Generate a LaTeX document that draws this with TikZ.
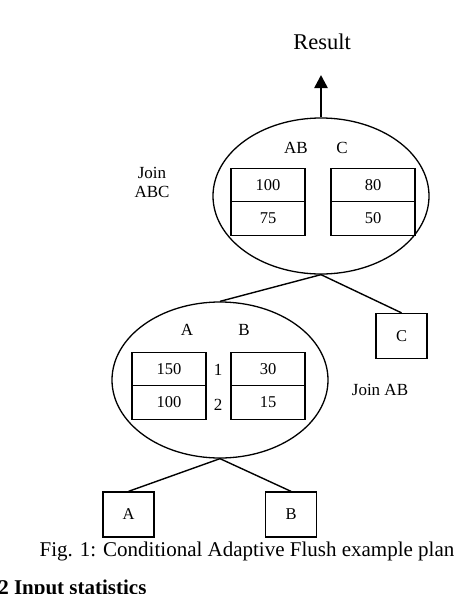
\documentclass[tikz,border=0pt]{standalone}
\usepackage{fontspec}
\setmainfont{Liberation Serif}
\usetikzlibrary{shapes.geometric,arrows.meta}

\begin{document}
\begin{tikzpicture}[x=1pt,y=-1pt,
    joinnode/.style={draw, ellipse, line width=1.3pt, minimum width=216pt, minimum height=156pt, inner sep=0pt},
    cell/.style={draw, line width=1.3pt, minimum height=33.5pt, inner sep=0pt, font=\fontsize{16.5}{19}\selectfont},
    leaf/.style={draw, line width=1.3pt, minimum width=51pt, minimum height=45pt, inner sep=0pt, font=\fontsize{16.5}{19}\selectfont},
    lbl/.style={font=\fontsize{17}{19}\selectfont},
    link/.style={line width=1.4pt}]
        \clip (0,0) rectangle (474,594);

        % join nodes
        \node[joinnode] (joinabc) at (321,196) {};
        \node[joinnode] (joinab) at (220,380) {};

        % statistics of join ABC
        \node[cell, minimum width=74pt] (ab1) at (268,185) {100};
        \node[cell, minimum width=74pt] (ab2) at (268,218.5) {75};
        \node[cell, minimum width=84pt] (c1) at (373,185) {80};
        \node[cell, minimum width=84pt] (c2) at (373,218.5) {50};
        \node[lbl] (abtitle) at (296,148) {AB};
        \node[lbl] (ctitle) at (342,148) {C};
        \node[lbl, align=center] (joinabclbl) at (152,182) {Join\\ABC};

        % statistics of join AB
        \node[cell, minimum width=74pt] (a1) at (169,369) {150};
        \node[cell, minimum width=74pt] (a2) at (169,402.5) {100};
        \node[cell, minimum width=74pt] (b1) at (268,369) {30};
        \node[cell, minimum width=74pt] (b2) at (268,402.5) {15};
        \node[lbl] (atitle) at (187,330) {A};
        \node[lbl] (btitle) at (244,330) {B};
        \node[lbl] (row1) at (218,370) {1};
        \node[lbl] (row2) at (218,405) {2};
        \node[lbl] (joinablbl) at (380,390) {Join AB};

        % base relations
        \node[leaf] (cbox) at (401.5,336) {C};
        \node[leaf] (abox) at (128.5,514.5) {A};
        \node[leaf] (bbox) at (291,514.5) {B};

        \draw[link] (joinabc.south) -- (joinab.north);
        \draw[link] (joinabc.south) -- (cbox.north);
        \draw[link] (joinab.south) -- (abox.north);
        \draw[link] (joinab.south) -- (bbox.north);

        % result
        \node[font=\fontsize{22.5}{26}\selectfont] (result) at (322,42) {Result};
        \coordinate (tip) at (321,75);
        \draw[line width=2.5pt, -{Triangle[width=13pt,length=13pt]}] (joinabc.north) -- (tip);

        \node[font=\fontsize{21}{24}\selectfont] (caption) at (247,551) {Fig. 1: Conditional Adaptive Flush example plan};
        \node[anchor=base west, font=\bfseries\fontsize{21}{24}\selectfont] (section) at (-21,594) {3.2 Input statistics};
\end{tikzpicture}
\end{document}
